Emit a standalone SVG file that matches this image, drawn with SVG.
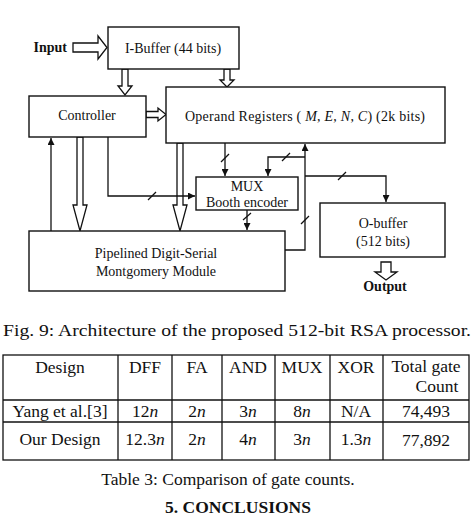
<svg xmlns="http://www.w3.org/2000/svg" width="474" height="519" viewBox="0 0 474 519">
<style>
.box{fill:#fff;stroke:#111;stroke-width:1.4}
.ln{fill:none;stroke:#111;stroke-width:1.3}
.ha{fill:#fff;stroke:#111;stroke-width:1.3;stroke-linejoin:miter}
.sl{stroke:#111;stroke-width:1.2}
.t{font-family:"Liberation Serif","Times New Roman",serif;font-size:14px;fill:#111;text-anchor:middle}
.b{font-family:"Liberation Serif","Times New Roman",serif;font-size:14px;font-weight:bold;fill:#111}
.cap{font-family:"Liberation Serif","Times New Roman",serif;font-size:17.5px;fill:#111;text-anchor:middle}
.tb{font-family:"Liberation Serif","Times New Roman",serif;font-size:17.5px;fill:#111;text-anchor:middle}
.grid{fill:none;stroke:#111;stroke-width:1.3}
</style>
<defs>
<marker id="ah" viewBox="0 0 10 10" refX="10" refY="5" markerWidth="7" markerHeight="7" markerUnits="userSpaceOnUse" orient="auto">
<path d="M0,0 L10,5 L0,10 z" fill="#111"/>
</marker>
</defs>

<g id="connectors">
<polygon class="ha" points="73,43 98,43 98,36 107,47.5 98,59 98,52 73,52"/>
<polygon class="ha" points="122,69 122,86 118,86 125,95 132,86 128,86 128,69"/>
<polygon class="ha" points="224,69 224,80 220,80 227,87 234,80 230,80 230,69"/>
<polygon class="ha" points="146,111.5 158,111.5 158,108 166,114.5 158,121 158,117.5 146,117.5"/>
<polygon class="ha" points="77,137 77,205 73,205 80,231 87,205 83,205 83,137"/>
<polygon class="ha" points="177,143 177,205 173,205 180,231 187,205 183,205 183,143"/>
<polygon class="ha" points="381,262 381,272 375,272 386,280 397,272 391,272 391,262"/>
<path class="ln" d="M51,231 V138" marker-end="url(#ah)"/>
<path class="ln" d="M108,137 V196 H195" marker-end="url(#ah)"/>
<line class="sl" x1="148" y1="200" x2="156" y2="192"/>
<path class="ln" d="M225,143 V176" marker-end="url(#ah)"/>
<line class="sl" x1="221" y1="162" x2="229" y2="154"/>
<path class="ln" d="M285,250 H305 V144" marker-end="url(#ah)"/>
<line class="sl" x1="301" y1="224" x2="309" y2="216"/>
<path class="ln" d="M305,157 H268 V176" marker-end="url(#ah)"/>
<line class="sl" x1="282" y1="161" x2="290" y2="153"/>
<path class="ln" d="M305,176 H386 V202" marker-end="url(#ah)"/>
<line class="sl" x1="338" y1="180" x2="346" y2="172"/>
<path class="ln" d="M247,210 V230" marker-end="url(#ah)"/>
<line class="sl" x1="243" y1="220" x2="251" y2="213"/>
</g>

<g id="input-label">
<text class="b" x="67" y="52" text-anchor="end">Input</text>
</g>
<g id="ibuffer">
<rect class="box" x="108" y="27" width="131" height="42"/>
<text class="t" x="173" y="53">I-Buffer (44 bits)</text>
</g>
<g id="controller">
<rect class="box" x="29" y="96" width="117" height="41"/>
<text class="t" x="87" y="120">Controller</text>
</g>
<g id="operand">
<rect class="box" x="166" y="87" width="279" height="56"/>
<text class="t" x="305" y="121" textLength="240">Operand Registers ( <tspan font-style="italic">M</tspan>, <tspan font-style="italic">E</tspan>, <tspan font-style="italic">N</tspan>, <tspan font-style="italic">C</tspan>) (2k bits)</text>
</g>
<g id="mux">
<rect class="box" x="196" y="177" width="102" height="33"/>
<text class="t" x="247" y="191">MUX</text>
<text class="t" x="247" y="207">Booth encoder</text>
</g>
<g id="module">
<rect class="box" x="29" y="231" width="256" height="60"/>
<text class="t" x="156" y="258">Pipelined Digit-Serial</text>
<text class="t" x="156" y="276">Montgomery Module</text>
</g>
<g id="obuffer">
<rect class="box" x="320" y="203" width="125" height="54"/>
<text class="t" x="383" y="228">O-buffer</text>
<text class="t" x="383" y="246">(512 bits)</text>
</g>
<g id="output-label">
<text class="b" x="385" y="291" text-anchor="middle">Output</text>
</g>

<text class="cap" x="237" y="336" textLength="468" lengthAdjust="spacingAndGlyphs">Fig. 9: Architecture of the proposed 512-bit RSA processor.</text>

<g id="table">
<rect class="grid" x="3" y="355" width="466" height="105"/>
<line class="grid" x1="3" y1="400" x2="469" y2="400"/>
<line class="grid" x1="3" y1="422" x2="469" y2="422"/>
<line class="grid" x1="118" y1="355" x2="118" y2="460"/>
<line class="grid" x1="172" y1="355" x2="172" y2="460"/>
<line class="grid" x1="222" y1="355" x2="222" y2="460"/>
<line class="grid" x1="275" y1="355" x2="275" y2="460"/>
<line class="grid" x1="330" y1="355" x2="330" y2="460"/>
<line class="grid" x1="383" y1="355" x2="383" y2="460"/>
<text class="tb" x="60" y="373">Design</text>
<text class="tb" x="145" y="373">DFF</text>
<text class="tb" x="197" y="373">FA</text>
<text class="tb" x="248" y="373">AND</text>
<text class="tb" x="302" y="373">MUX</text>
<text class="tb" x="356" y="373">XOR</text>
<text class="tb" x="426" y="372" font-size="16">Total gate</text>
<text class="tb" x="437" y="392" font-size="16">Count</text>
<text class="tb" x="60" y="417">Yang et al.[3]</text>
<text class="tb" x="145" y="417">12<tspan font-style="italic">n</tspan></text>
<text class="tb" x="197" y="417">2<tspan font-style="italic">n</tspan></text>
<text class="tb" x="248" y="417">3<tspan font-style="italic">n</tspan></text>
<text class="tb" x="302" y="417">8<tspan font-style="italic">n</tspan></text>
<text class="tb" x="356" y="417">N/A</text>
<text class="tb" x="426" y="417">74,493</text>
<text class="tb" x="60" y="445">Our Design</text>
<text class="tb" x="145" y="445">12.3<tspan font-style="italic">n</tspan></text>
<text class="tb" x="197" y="445">2<tspan font-style="italic">n</tspan></text>
<text class="tb" x="248" y="445">4<tspan font-style="italic">n</tspan></text>
<text class="tb" x="302" y="445">3<tspan font-style="italic">n</tspan></text>
<text class="tb" x="356" y="445">1.3<tspan font-style="italic">n</tspan></text>
<text class="tb" x="426" y="446">77,892</text>
</g>

<text class="tb" x="228" y="485" font-size="17">Table 3: Comparison of gate counts.</text>
<text class="tb" x="238" y="513" font-size="20" font-weight="bold">5. CONCLUSIONS</text>
</svg>
